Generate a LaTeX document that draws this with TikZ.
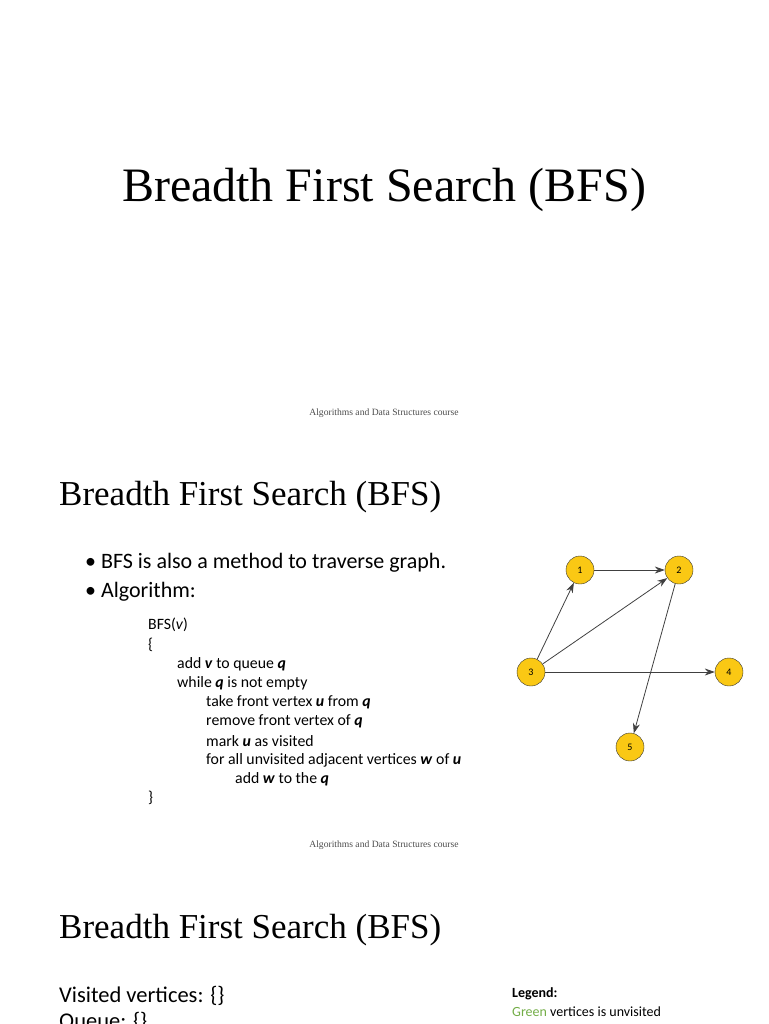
\documentclass[tikz,border=0pt]{standalone}
\usepackage{fontspec}
\setmainfont{Carlito}
\newfontfamily\tnr{Liberation Serif}
\usetikzlibrary{arrows.meta}
\begin{document}
\begin{tikzpicture}[x=1pt,y=-1pt,
  vtx/.style={circle,draw=black!80,fill={rgb,255:red,250;green,200;blue,20},minimum size=28pt,inner sep=0pt,font=\fontsize{10}{12}\selectfont},
  edge/.style={draw=black!75,line width=0.8pt,-{Stealth[length=10pt,width=7pt]}},
  foot/.style={font=\tnr\fontsize{9.6}{11}\selectfont,text=black!70},
  code/.style={anchor=west,font=\fontsize{15.8}{18}\selectfont,inner sep=0pt}]
\useasboundingbox (0,0) rectangle (768,1024);
\clip (0,0) rectangle (768,1024);
\node (t1) at (384,190) {\tnr\fontsize{48}{54}\selectfont Breadth First Search (BFS)};
\node[foot] (f1) at (384,413) {Algorithms and Data Structures course};
\node[anchor=west,inner sep=0pt] (t2) at (59,497) {\tnr\fontsize{35}{40}\selectfont Breadth First Search (BFS)};
\node[anchor=west,inner sep=0pt,font=\fontsize{22}{26}\selectfont] (b1) at (85,563) {\textbullet\ BFS is also a method to traverse graph.};
\node[anchor=west,inner sep=0pt,font=\fontsize{22}{26}\selectfont] (b2) at (85,592) {\textbullet\ Algorithm:};
\node[code] (c1) at (148,625) {BFS(\textit{v})};
\node[code] (c2) at (148,645) {\{};
\node[code] (c3) at (177,664) {add \textbf{\textit{v}} to queue \textbf{\textit{q}}};
\node[code] (c4) at (177,683) {while \textbf{\textit{q}} is not empty};
\node[code] (c5) at (206,702) {take front vertex \textbf{\textit{u}} from \textbf{\textit{q}}};
\node[code] (c6) at (206,721) {remove front vertex of \textbf{\textit{q}}};
\node[code] (c7) at (206,741) {mark \textbf{\textit{u}} as visited};
\node[code] (c8) at (206,760) {for all unvisited adjacent vertices \textbf{\textit{w}} of \textbf{\textit{u}}};
\node[code] (c9) at (235,779) {add \textbf{\textit{w}} to the \textbf{\textit{q}}};
\node[code] (c10) at (148,798) {\}};
\node[vtx] (n1) at (580,570) {1};
\node[vtx] (n2) at (679,570) {2};
\node[vtx] (n3) at (531,672) {3};
\node[vtx] (n4) at (729,672) {4};
\node[vtx] (n5) at (630,747) {5};
\draw[edge] (n1) -- (n2);
\draw[edge] (n3) -- (n1);
\draw[edge] (n3) -- (n2);
\draw[edge] (n3) -- (n4);
\draw[edge] (n2) -- (n5);
\node[foot] (f2) at (384,845) {Algorithms and Data Structures course};
\node[anchor=west,inner sep=0pt] (t3) at (59,930) {\tnr\fontsize{35}{40}\selectfont Breadth First Search (BFS)};
\node[anchor=west,inner sep=0pt,font=\fontsize{22.5}{26}\selectfont] (v1) at (59,996) {Visited vertices: \{\}};
\node[anchor=west,inner sep=0pt,font=\fontsize{22.5}{26}\selectfont] (v2) at (59,1022) {Queue: \{\}};
\node[anchor=west,inner sep=0pt,font=\bfseries\fontsize{14}{16}\selectfont] (l1) at (512,994) {Legend:};
\node[anchor=west,inner sep=0pt,font=\fontsize{14}{16}\selectfont] (l2) at (512,1012) {\textcolor[rgb]{0.45,0.68,0.28}{Green} vertices is unvisited};
\node[anchor=west,inner sep=0pt,font=\fontsize{14}{16}\selectfont] (l3) at (512,1031) {\textcolor[rgb]{0.95,0.75,0.1}{Yellow} vertices is visited};
\end{tikzpicture}
\end{document}
